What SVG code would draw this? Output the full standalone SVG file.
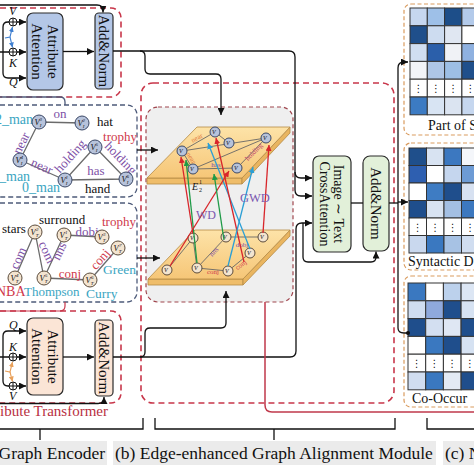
<svg xmlns="http://www.w3.org/2000/svg" width="474" height="474" viewBox="0 0 474 474">
<defs>
<marker id="ak" markerWidth="7" markerHeight="7" refX="7" refY="3.5" orient="auto" markerUnits="userSpaceOnUse"><path d="M0,0 L7,3.5 L0,7 z" fill="#111"/></marker>
<marker id="ar" markerWidth="6" markerHeight="6" refX="6" refY="3" orient="auto" markerUnits="userSpaceOnUse"><path d="M0,0 L6,3 L0,6 z" fill="#d8262b"/></marker>
<marker id="ag" markerWidth="6" markerHeight="6" refX="6" refY="3" orient="auto" markerUnits="userSpaceOnUse"><path d="M0,0 L6,3 L0,6 z" fill="#1f9a47"/></marker>
<marker id="ac" markerWidth="6" markerHeight="6" refX="6" refY="3" orient="auto" markerUnits="userSpaceOnUse"><path d="M0,0 L6,3 L0,6 z" fill="#2b9fd6"/></marker>
<marker id="ab" markerWidth="5" markerHeight="5" refX="5" refY="2.5" orient="auto" markerUnits="userSpaceOnUse"><path d="M0,0 L5,2.5 L0,5 z" fill="#3f7fd0"/></marker>
<marker id="ao" markerWidth="5" markerHeight="5" refX="5" refY="2.5" orient="auto" markerUnits="userSpaceOnUse"><path d="M0,0 L5,2.5 L0,5 z" fill="#e8a05a"/></marker>
<marker id="dot" markerWidth="4" markerHeight="4" refX="2" refY="2" markerUnits="userSpaceOnUse"><circle cx="2" cy="2" r="2" fill="#111"/></marker>
<linearGradient id="gp" x1="0" y1="0" x2="0" y2="1"><stop offset="0" stop-color="#fde3a8"/><stop offset="1" stop-color="#f6c677"/></linearGradient>
</defs>
<style>
text{font-family:"Liberation Serif","Times New Roman",serif;fill:#111;}
.ln{fill:none;stroke:#111;stroke-width:1.3;}
.rd{fill:none;stroke:#c8364a;stroke-width:1.6;stroke-dasharray:6 4;}
.bd{fill:none;stroke:#4e5b7a;stroke-width:1.3;stroke-dasharray:5 3;}
.od{fill:#fff;stroke:#d99b5e;stroke-width:1.2;stroke-dasharray:4 2.5;}
.blk{fill:#b4c7e7;stroke:#2b2b2b;stroke-width:1.2;}
.pch{fill:#fbe5d6;stroke:#2b2b2b;stroke-width:1.2;}
.grn{fill:#e2f0d9;stroke:#2b2b2b;stroke-width:1.2;}
.bt{font-size:15px;}
.mt{font-size:14px;}
.cap{font-size:17.5px;}
.ni{fill:#b7c3db;stroke:#3b4866;stroke-width:1;}
.nt{fill:#f3e4d0;stroke:#5c4c3c;stroke-width:1;}
.vl{font-size:8.5px;font-style:italic;}
.vs{font-size:6px;font-style:italic;}
.sb{font-size:5px;}
.el{font-size:13px;fill:#7d4fa6;}
.cy{font-size:14px;fill:#3aa5c2;}
.rt{font-size:13px;fill:#d0394b;}
.bk{font-size:13px;}
.ce{font-size:13px;fill:#d0394b;}
.ge{stroke:#6b6b6b;stroke-width:1.3;fill:none;}
.pe{stroke:#666;stroke-width:0.9;fill:none;}
.c{stroke:#333;stroke-width:1;}
.dt{font-size:10px;font-family:"DejaVu Sans",sans-serif;text-anchor:middle;}
.mid{text-anchor:middle;dominant-baseline:central;}
.it{font-style:italic;font-size:12px;}
.pl{font-size:7px;}
</style>

<!-- (a) Graph encoder: top attribute transformer -->
<g id="attr-top">
<rect class="rd" x="-10" y="8" width="131" height="89" rx="10"/>
<rect class="blk" x="27" y="13" width="36" height="77" rx="6"/>
<text class="bt" transform="translate(45,51.5) rotate(90)" text-anchor="middle"><tspan x="0" y="-3">Attribute</tspan><tspan x="0" y="13">Attention</tspan></text>
<rect class="blk" x="95" y="13" width="18" height="76" rx="4"/>
<text class="bt" transform="translate(104,51) rotate(90)" text-anchor="middle" x="0" y="5">Add&amp;Norm</text>
<text class="it" x="9" y="15">V</text>
<circle cx="13" cy="22" r="4" fill="#fff" stroke="#111" stroke-width="1"/><path d="M9,22 H17 M13,18 V26" stroke="#111" stroke-width="1"/>
<circle cx="13" cy="52" r="4" fill="#fff" stroke="#111" stroke-width="1"/><path d="M9,52 H17 M13,48 V56" stroke="#111" stroke-width="1"/>
<text class="it" x="9" y="67">K</text>
<text class="it" x="9" y="86">Q</text>
</g>

<!-- bottom attribute transformer -->
<g id="attr-bottom">
<rect class="rd" x="-10" y="311" width="131" height="92" rx="10"/>
<rect class="pch" x="27" y="318" width="36" height="77" rx="6"/>
<text class="bt" transform="translate(45,356.5) rotate(90)" text-anchor="middle"><tspan x="0" y="-3">Attribute</tspan><tspan x="0" y="13">Attention</tspan></text>
<rect class="pch" x="95" y="320" width="18" height="76" rx="4"/>
<text class="bt" transform="translate(104,358) rotate(90)" text-anchor="middle" x="0" y="5">Add&amp;Norm</text>
<text class="it" x="9" y="329">Q</text>
<text class="it" x="9" y="351">K</text>
<circle cx="13" cy="357" r="4" fill="#fff" stroke="#111" stroke-width="1"/><path d="M9,357 H17 M13,353 V361" stroke="#111" stroke-width="1"/>
<circle cx="13" cy="386" r="4" fill="#fff" stroke="#111" stroke-width="1"/><path d="M9,386 H17 M13,382 V390" stroke="#111" stroke-width="1"/>
<text class="it" x="9" y="399.5">V</text>
<text x="108" y="415.5" text-anchor="end" style="font-size:15px;fill:#b8303f">ibute Transformer</text>
</g>

<!-- image scene graph -->
<g id="image-graph">
<rect class="bd" x="-10" y="105" width="147" height="92" rx="10"/>
<path class="ge" d="M39,122 L82,123 M39,122 L20,160 M20,160 L65,180 M65,180 L95,147 M65,180 L126,179 M95,147 L126,179"/>
<text class="cy" x="33" y="124" text-anchor="end">2_man</text>
<text class="cy" x="-1" y="181">_man</text>
<text class="cy" x="22" y="192">0_man</text>
<text class="bk" x="97" y="125.5">hat</text>
<text class="bk" x="85" y="193">hand</text>
<text class="rt" x="120" y="141" text-anchor="middle">trophy</text>
<text class="el" x="60" y="118" text-anchor="middle">on</text>
<text class="el" x="96" y="175" text-anchor="middle">has</text>
<text class="el mid" transform="translate(21,143) rotate(-63)">near</text>
<text class="el mid" transform="translate(42,166) rotate(24)">near</text>
<text class="el mid" transform="translate(70,156) rotate(-48)">holding</text>
<text class="el mid" transform="translate(121,158) rotate(46)">holding</text>
</g>
<g id="vi3"><circle class="ni" cx="39" cy="122" r="7"/><text class="vl" x="34.5" y="125">V<tspan class="sb" dy="2">I</tspan><tspan class="sb" dx="-2" dy="-6">3</tspan></text></g>
<g id="vi2"><circle class="ni" cx="82" cy="123" r="7"/><text class="vl" x="77.5" y="126">V<tspan class="sb" dy="2">I</tspan><tspan class="sb" dx="-2" dy="-6">2</tspan></text></g>
<g id="vi4"><circle class="ni" cx="20" cy="160" r="7"/><text class="vl" x="15.5" y="163">V<tspan class="sb" dy="2">I</tspan><tspan class="sb" dx="-2" dy="-6">4</tspan></text></g>
<g id="vi1"><circle class="ni" cx="65" cy="180" r="7"/><text class="vl" x="60.5" y="183">V<tspan class="sb" dy="2">I</tspan><tspan class="sb" dx="-2" dy="-6">1</tspan></text></g>
<g id="vi5"><circle class="ni" cx="95" cy="147" r="7"/><text class="vl" x="90.5" y="150">V<tspan class="sb" dy="2">I</tspan><tspan class="sb" dx="-2" dy="-6">5</tspan></text></g>
<g id="vi6"><circle class="ni" cx="126" cy="179" r="7"/><text class="vl" x="121.5" y="182">V<tspan class="sb" dy="2">I</tspan><tspan class="sb" dx="-2" dy="-6">6</tspan></text></g>

<!-- text scene graph -->
<g id="text-graph">
<rect class="bd" x="-10" y="203" width="147" height="99" rx="10"/>
<path class="ge" d="M35,232 L15,278 M35,232 L44,278 M64,235 L44,278 M64,235 L102,237 M44,278 L90,280 M90,280 L118,248"/>
<text class="bk" x="2" y="233">stars</text>
<text class="bk" x="39" y="224">surround</text>
<text class="rt" x="102" y="226">trophy</text>
<text class="rt" x="-4" y="296" style="font-size:14px">NBA</text>
<text class="cy" x="24" y="296" style="font-size:13px">Thompson</text>
<text class="cy" x="86" y="297.5" style="font-size:13.5px">Curry</text>
<text class="cy" x="103" y="274" style="font-size:13.5px">Green</text>
<text class="el mid" x="87" y="231">dobj</text>
<text class="el mid" transform="translate(18,258) rotate(-66)">com</text>
<text class="el mid" transform="translate(47,252) rotate(65)">com</text>
<text class="el mid" transform="translate(59,251) rotate(-65)">nns</text>
<text class="ce mid" x="70" y="273">conj</text>
<text class="ce mid" transform="translate(100,259) rotate(-49)">conj</text>
</g>
<g id="vt1"><circle class="nt" cx="35" cy="232" r="7"/><text class="vl" x="30.5" y="235">V<tspan class="sb" dy="2">T</tspan><tspan class="sb" dx="-2.5" dy="-6">2</tspan></text></g>
<g id="vt2"><circle class="nt" cx="64" cy="235" r="7"/><text class="vl" x="59.5" y="238">V<tspan class="sb" dy="2">T</tspan><tspan class="sb" dx="-2.5" dy="-6">1</tspan></text></g>
<g id="vt3"><circle class="nt" cx="102" cy="237" r="7"/><text class="vl" x="97.5" y="240">V<tspan class="sb" dy="2">T</tspan><tspan class="sb" dx="-2.5" dy="-6">3</tspan></text></g>
<g id="vt4"><circle class="nt" cx="15" cy="278" r="7"/><text class="vl" x="10.5" y="281">V<tspan class="sb" dy="2">T</tspan><tspan class="sb" dx="-2.5" dy="-6">4</tspan></text></g>
<g id="vt5"><circle class="nt" cx="44" cy="278" r="7"/><text class="vl" x="39.5" y="281">V<tspan class="sb" dy="2">T</tspan><tspan class="sb" dx="-2.5" dy="-6">5</tspan></text></g>
<g id="vt6"><circle class="nt" cx="90" cy="280" r="7"/><text class="vl" x="85.5" y="283">V<tspan class="sb" dy="2">T</tspan><tspan class="sb" dx="-2.5" dy="-6">6</tspan></text></g>
<g id="vt7"><circle class="nt" cx="118" cy="248" r="7"/><text class="vl" x="113.5" y="251">V<tspan class="sb" dy="2">T</tspan><tspan class="sb" dx="-2.5" dy="-6">7</tspan></text></g>

<!-- (b) alignment module frames -->
<g id="alignment-frame">
<rect class="rd" x="141" y="83" width="253" height="320" rx="12"/>
<rect x="146" y="107" width="147" height="195" rx="12" fill="#efefef" stroke="#a0464e" stroke-width="1.2" stroke-dasharray="4 3"/>
</g>

<!-- bottom plane (text graph) -->
<g id="plane-text">
<polygon points="148,279 243,279 243,285 148,285" fill="#efbd6a" stroke="#b58a45" stroke-width="0.8"/>
<polygon points="243,279 290,230 290,236 243,285" fill="#e9b560" stroke="#b58a45" stroke-width="0.8"/>
<polygon points="195,230 290,230 243,279 148,279" fill="url(#gp)" stroke="#b58a45" stroke-width="0.8"/>
<path class="pe" d="M193,238 L167,270 M193,238 L197,268 M226,237 L197,268 M226,237 L263,237 M197,268 L228,271 M228,271 L250,253"/>
<text class="pl mid" x="242" y="245" style="fill:#7d4fa6">dobj</text>
<text class="pl mid" transform="translate(214,252) rotate(-47)" style="fill:#7d4fa6">nns</text>
<text class="pl mid" x="213" y="272" style="fill:#d0394b">conj</text>
<text class="pl mid" transform="translate(241,265) rotate(-39)" style="fill:#d0394b">conj</text>
<g id="pm1"><circle class="nt" cx="193" cy="238" r="5"/><text class="vs" x="190" y="240">V</text></g>
<g id="pm2"><circle class="nt" cx="226" cy="237" r="5"/><text class="vs" x="223" y="239">V</text></g>
<g id="pm3"><circle class="nt" cx="263" cy="237" r="5"/><text class="vs" x="260" y="239">V</text></g>
<g id="pm4"><circle class="nt" cx="250" cy="253" r="5"/><text class="vs" x="247" y="255">V</text></g>
<g id="pm5"><circle class="nt" cx="167" cy="270" r="5"/><text class="vs" x="164" y="272">V</text></g>
<g id="pm6"><circle class="nt" cx="197" cy="268" r="5"/><text class="vs" x="194" y="270">V</text></g>
<g id="pm7"><circle class="nt" cx="228" cy="271" r="5"/><text class="vs" x="225" y="273">V</text></g>
</g>

<!-- top plane (image graph) -->
<g id="plane-image">
<polygon points="147,178 242,178 242,184 147,184" fill="#efbd6a" stroke="#b58a45" stroke-width="0.8"/>
<polygon points="242,178 290,127 290,133 242,184" fill="#e9b560" stroke="#b58a45" stroke-width="0.8"/>
<polygon points="197,127 290,127 242,178 147,178" fill="url(#gp)" stroke="#b58a45" stroke-width="0.8"/>
<path class="pe" d="M182,151 L215,132 M215,132 L229,143 M182,151 L193,169 M182,151 L266,138 M193,169 L266,138 M193,169 L237,168 M237,168 L266,138"/>
<text class="pl mid" transform="translate(197,138) rotate(-30)" style="fill:#e27a3f">near</text>
<text class="pl mid" transform="translate(191,158) rotate(58)" style="fill:#e27a3f">near</text>
<text class="pl mid" x="216" y="165" style="fill:#7d4fa6">has</text>
<text class="pl mid" transform="translate(254,152) rotate(-46)" style="fill:#c0406a">holding</text>
<g id="pn1"><circle class="ni" cx="215" cy="132" r="5"/><text class="vs" x="212" y="134">V</text></g>
<g id="pn2"><circle class="ni" cx="229" cy="143" r="5"/><text class="vs" x="226" y="145">V</text></g>
<g id="pn3"><circle class="ni" cx="266" cy="138" r="5"/><text class="vs" x="263" y="140">V</text></g>
<g id="pn4"><circle class="ni" cx="182" cy="151" r="5"/><text class="vs" x="179" y="153">V</text></g>
<g id="pn5"><circle class="ni" cx="193" cy="169" r="5"/><text class="vs" x="190" y="171">V</text></g>
<g id="pn6"><circle class="ni" cx="237" cy="168" r="5"/><text class="vs" x="234" y="170">V</text></g>
<text style="font-size:10px;font-style:italic" x="192" y="190">E</text>
<text style="font-size:6px" x="199" y="184">1</text>
<text style="font-size:6px" x="199" y="192">2</text>
</g>

<!-- alignment lines between planes -->
<g id="alignment-lines" fill="none" stroke-width="1.3">
<path d="M193,234 L181,157" stroke="#d8262b" marker-end="url(#ar)"/>
<path d="M197,263 L186,160" stroke="#1f9a47" marker-end="url(#ag)"/>
<path d="M250,249 L208,143" stroke="#2b9fd6" marker-end="url(#ac)"/>
<path d="M244,262 L216,138" stroke="#d8262b" marker-end="url(#ar)"/>
<path d="M263,233 L269,145" stroke="#d8262b" marker-end="url(#ar)"/>
<path d="M228,266 L253,167" stroke="#2b9fd6" marker-end="url(#ac)"/>
<path d="M170,266 L229,171" stroke="#d8262b" marker-end="url(#ar)"/>
<path d="M224,240 L214,174" stroke="#1f9a47" marker-end="url(#ag)"/>
</g>
<text x="240" y="202" style="font-size:12.5px;fill:#7a58b0">GWD</text>
<text x="196" y="219" style="font-size:12px;fill:#7a58b0">WD</text>

<!-- cross attention -->
<g id="cross-attention">
<rect class="grn" x="313" y="156" width="38" height="96" rx="6"/>
<text class="mt" transform="translate(332,204) rotate(90)" text-anchor="middle"><tspan x="0" y="-2">Image ∼ Text</tspan><tspan x="0" y="12">CrossAttention</tspan></text>
</g>
<g id="add-norm-c">
<rect class="grn" x="363" y="156" width="26" height="95" rx="7"/>
<text class="bt" transform="translate(376,203.5) rotate(90)" text-anchor="middle" x="0" y="5">Add&amp;Norm</text>
</g>

<!-- matrices -->
<g id="pos-matrix">
<rect class="od" x="404" y="4" width="90" height="131" rx="7"/>
<g class="c">
<rect x="410" y="8" width="17.3" height="17.8" fill="#c6d7ef"/><rect x="427.3" y="8" width="17.3" height="17.8" fill="#9ec0e8"/><rect x="444.6" y="8" width="17.3" height="17.8" fill="#1d4e89"/><rect x="461.9" y="8" width="17.3" height="17.8" fill="#b3caea"/>
<rect x="410" y="25.8" width="17.3" height="17.8" fill="#1f4f8b"/><rect x="427.3" y="25.8" width="17.3" height="17.8" fill="#cddcf0"/><rect x="444.6" y="25.8" width="17.3" height="17.8" fill="#e0e7f2"/><rect x="461.9" y="25.8" width="17.3" height="17.8" fill="#ffffff"/>
<rect x="410" y="43.6" width="17.3" height="17.8" fill="#d0def1"/><rect x="427.3" y="43.6" width="17.3" height="17.8" fill="#2b5faa"/><rect x="444.6" y="43.6" width="17.3" height="17.8" fill="#f0f2f6"/><rect x="461.9" y="43.6" width="17.3" height="17.8" fill="#8fb1e0"/>
<rect x="410" y="61.4" width="17.3" height="17.8" fill="#f2f4f8"/><rect x="427.3" y="61.4" width="17.3" height="17.8" fill="#aec6e6"/><rect x="444.6" y="61.4" width="17.3" height="17.8" fill="#9dbfe5"/><rect x="461.9" y="61.4" width="17.3" height="17.8" fill="#1f4f8b"/>
<rect x="410" y="79.2" width="17.3" height="17.8" fill="#fff"/><rect x="427.3" y="79.2" width="17.3" height="17.8" fill="#fff"/><rect x="444.6" y="79.2" width="17.3" height="17.8" fill="#fff"/><rect x="461.9" y="79.2" width="17.3" height="17.8" fill="#fff"/>
<rect x="410" y="97" width="17.3" height="17.8" fill="#3c7bc3"/><rect x="427.3" y="97" width="17.3" height="17.8" fill="#d8e4f3"/><rect x="444.6" y="97" width="17.3" height="17.8" fill="#dbe4f1"/><rect x="461.9" y="97" width="17.3" height="17.8" fill="#c6d7ef"/>
</g>
<text class="dt" x="418.6" y="92">⋮</text><text class="dt" x="436" y="92">⋮</text><text class="dt" x="453.2" y="92">⋮</text><text class="dt" x="470.5" y="92">⋮</text>
<text class="mt" x="428" y="130">Part of S</text>
</g>

<g id="syn-matrix">
<rect class="od" x="404" y="143" width="90" height="127" rx="7"/>
<g class="c">
<rect x="409" y="148" width="17.5" height="17.5" fill="#1f4f8b"/><rect x="426.5" y="148" width="17.5" height="17.5" fill="#d8e3f2"/><rect x="444" y="148" width="17.5" height="17.5" fill="#3c78c0"/><rect x="461.5" y="148" width="17.5" height="17.5" fill="#f4f6fa"/>
<rect x="409" y="165.5" width="17.5" height="17.5" fill="#2e5fb0"/><rect x="426.5" y="165.5" width="17.5" height="17.5" fill="#ffffff"/><rect x="444" y="165.5" width="17.5" height="17.5" fill="#c5d6ee"/><rect x="461.5" y="165.5" width="17.5" height="17.5" fill="#6d9bd5"/>
<rect x="409" y="183" width="17.5" height="17.5" fill="#ffffff"/><rect x="426.5" y="183" width="17.5" height="17.5" fill="#3e7cc3"/><rect x="444" y="183" width="17.5" height="17.5" fill="#1f4e8c"/><rect x="461.5" y="183" width="17.5" height="17.5" fill="#d7e1f1"/>
<rect x="409" y="200.5" width="17.5" height="17.5" fill="#1f4e8c"/><rect x="426.5" y="200.5" width="17.5" height="17.5" fill="#d8e3f2"/><rect x="444" y="200.5" width="17.5" height="17.5" fill="#a3bfe3"/><rect x="461.5" y="200.5" width="17.5" height="17.5" fill="#3c78bf"/>
<rect x="409" y="218" width="17.5" height="17.5" fill="#fff"/><rect x="426.5" y="218" width="17.5" height="17.5" fill="#fff"/><rect x="444" y="218" width="17.5" height="17.5" fill="#fff"/><rect x="461.5" y="218" width="17.5" height="17.5" fill="#fff"/>
<rect x="409" y="235.5" width="17.5" height="17.5" fill="#c9d8ee"/><rect x="426.5" y="235.5" width="17.5" height="17.5" fill="#3a78c0"/><rect x="444" y="235.5" width="17.5" height="17.5" fill="#a7c2e4"/><rect x="461.5" y="235.5" width="17.5" height="17.5" fill="#d0ddf0"/>
</g>
<text class="dt" x="417.8" y="230.5">⋮</text><text class="dt" x="435.3" y="230.5">⋮</text><text class="dt" x="452.8" y="230.5">⋮</text><text class="dt" x="470.3" y="230.5">⋮</text>
<text class="mt" x="408" y="266">Syntactic D</text>
</g>

<g id="cooc-matrix">
<rect class="od" x="404" y="276" width="90" height="131" rx="7"/>
<g class="c">
<rect x="408" y="283" width="17.7" height="17.8" fill="#3a78c0"/><rect x="425.7" y="283" width="17.7" height="17.8" fill="#ffffff"/><rect x="443.4" y="283" width="17.7" height="17.8" fill="#bcd1ec"/><rect x="461.1" y="283" width="17.7" height="17.8" fill="#dce6f4"/>
<rect x="408" y="300.8" width="17.7" height="17.8" fill="#d0ddf0"/><rect x="425.7" y="300.8" width="17.7" height="17.8" fill="#8fa9dc"/><rect x="443.4" y="300.8" width="17.7" height="17.8" fill="#1f4e8c"/><rect x="461.1" y="300.8" width="17.7" height="17.8" fill="#d6e2f2"/>
<rect x="408" y="318.6" width="17.7" height="17.8" fill="#1f4e8c"/><rect x="425.7" y="318.6" width="17.7" height="17.8" fill="#d3dff1"/><rect x="443.4" y="318.6" width="17.7" height="17.8" fill="#dfe7f3"/><rect x="461.1" y="318.6" width="17.7" height="17.8" fill="#1f4e8c"/>
<rect x="408" y="336.4" width="17.7" height="17.8" fill="#ffffff"/><rect x="425.7" y="336.4" width="17.7" height="17.8" fill="#3a78c0"/><rect x="443.4" y="336.4" width="17.7" height="17.8" fill="#1f4e8c"/><rect x="461.1" y="336.4" width="17.7" height="17.8" fill="#d6e2f2"/>
<rect x="408" y="354.2" width="17.7" height="17.8" fill="#fff"/><rect x="425.7" y="354.2" width="17.7" height="17.8" fill="#fff"/><rect x="443.4" y="354.2" width="17.7" height="17.8" fill="#fff"/><rect x="461.1" y="354.2" width="17.7" height="17.8" fill="#fff"/>
<rect x="408" y="372" width="17.7" height="17.8" fill="#d0ddf0"/><rect x="425.7" y="372" width="17.7" height="17.8" fill="#3a78c0"/><rect x="443.4" y="372" width="17.7" height="17.8" fill="#e3eaf4"/><rect x="461.1" y="372" width="17.7" height="17.8" fill="#1f4e8c"/>
</g>
<text class="dt" x="416.8" y="367">⋮</text><text class="dt" x="434.5" y="367">⋮</text><text class="dt" x="452.2" y="367">⋮</text><text class="dt" x="469.9" y="367">⋮</text>
<text class="mt" x="412" y="403">Co-Occur</text>
</g>

<!-- connectors -->
<g id="connectors">
<path class="ln" d="M0,5 H97 Q103,5 103,11 V12.5" marker-end="url(#ak)"/>
<path class="ln" d="M3,27 Q3,22 8,22 H9 M17,22 H26" marker-end="url(#ak)"/>
<path class="ln" d="M0,52 H9 M17,52 H26" marker-end="url(#ak)"/>
<path class="ln" d="M3,27 V73 Q3,78 8,78 H26" marker-end="url(#ak)"/>
<path fill="none" stroke="#3f7fd0" stroke-width="1.1" d="M5,38 L10,37 L12.5,27" marker-end="url(#ab)"/>
<path fill="none" stroke="#3f7fd0" stroke-width="1.1" d="M10,37 L12.5,47.5" marker-end="url(#ab)"/>
<path class="ln" d="M63,51.5 H94" marker-end="url(#ak)"/>
<path class="ln" d="M113,51 H289 Q295,51 295,57 V190 Q295,196 301,196 H312" marker-end="url(#ak)"/>
<path class="ln" d="M295,172 Q295,178 301,178 H312" marker-end="url(#ak)"/>
<path class="ln" d="M140,51 Q145,51 145,56 V69 Q145,74 150,74 H216 Q221,74 221,79 V115" marker-end="url(#ak)"/>
<path fill="none" stroke="#4e5b7a" stroke-width="1.3" d="M0,97 H60 Q65,97 65,102 V105"/>
<path class="ln" d="M137,150 H158" marker-end="url(#ak)"/>
<path class="ln" d="M137,258 H160" marker-end="url(#ak)"/>
<path fill="none" stroke="#c8364a" stroke-width="1.2" d="M0,311 H60 Q65,311 65,306 V302"/>

<path class="ln" d="M3,336 Q3,331 8,331 H26" marker-end="url(#ak)"/>
<path class="ln" d="M0,357 H9 M17,357 H26" marker-end="url(#ak)"/>
<path class="ln" d="M3,336 V381 Q3,386 8,386 H9 M17,386 H26" marker-end="url(#ak)"/>
<path fill="none" stroke="#e8a05a" stroke-width="1.1" d="M5,371 L10,372 L12.5,362" marker-end="url(#ao)"/>
<path fill="none" stroke="#e8a05a" stroke-width="1.1" d="M10,372 L12.5,381.5" marker-end="url(#ao)"/>
<path class="ln" d="M63,357 H94" marker-end="url(#ak)"/>
<path class="ln" d="M0,403.5 H98 Q104,403.5 104,397.5 V397" marker-end="url(#ak)"/>
<path class="ln" d="M113,357 H290 Q296,357 296,351 V229 Q296,223 302,223 H312" marker-end="url(#ak)"/>
<path class="ln" d="M140,357 Q145,357 145,352 V333 Q145,328 150,328 H221 Q226,328 226,323 V291" marker-end="url(#ak)"/>
<path class="ln" d="M303,223 V257 Q303,262 308,262 H371 Q376,262 376,257 V251.5" marker-end="url(#ak)"/>
<path class="ln" d="M351,203 H363"/>
<path class="ln" d="M389,203 H398"/>
<path class="ln" d="M398,68 V328"/>
<path class="ln" d="M398,68 Q398,62 404,62 H408" marker-end="url(#ak)"/>
<path class="ln" d="M398,202 H408" marker-end="url(#ak)"/>
<path class="ln" d="M398,328 Q398,333 404,333 H408" marker-end="url(#dot)"/>
<path fill="none" stroke="#c0394b" stroke-width="1.5" d="M265,302 V405 Q265,412 272,412 H474"/>
</g>

<!-- brackets and captions -->
<g id="captions">
<path class="ln" d="M0,429 H143 V418 M40,429 V440"/>
<path class="ln" d="M155,418 V429 H395 V418 M274,429 V440"/>
<path class="ln" d="M427,418 V429 H474"/>
<rect x="0" y="441" width="107" height="24" fill="#ebebeb"/>
<text class="cap" x="105" y="459" text-anchor="end">Graph Encoder</text>
<rect x="113" y="441" width="323" height="24" fill="#ebebeb"/>
<text class="cap" x="115" y="459">(b) Edge-enhanced Graph Alignment Module</text>
<rect x="443" y="441" width="40" height="24" fill="#ebebeb"/>
<text class="cap" x="445" y="459">(c) N</text>
</g>
</svg>
